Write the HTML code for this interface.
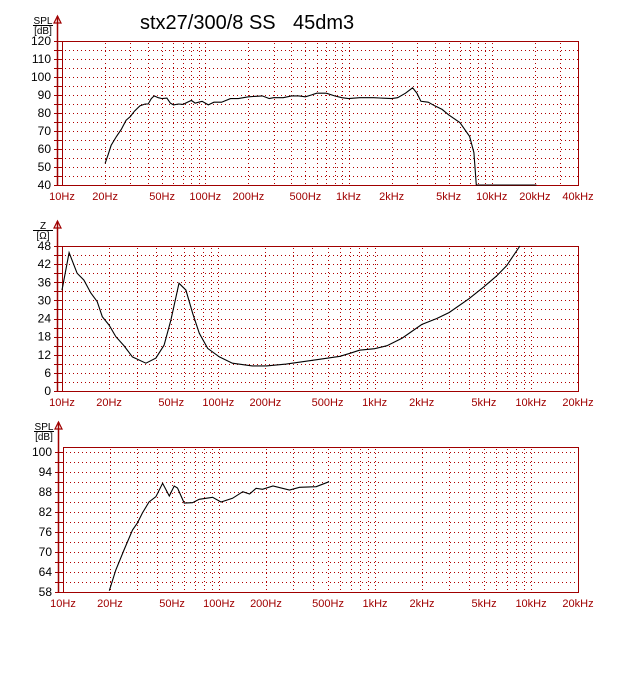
<!DOCTYPE html>
<html><head><meta charset="utf-8">
<style>
html,body{margin:0;padding:0;background:#fff;}
svg{display:block;font-family:"Liberation Sans",sans-serif;}
</style></head>
<body>
<svg id="s" width="640" height="678" xmlns="http://www.w3.org/2000/svg">
<text x="140" y="29" font-size="20" fill="#000">stx27/300/8 SS</text>
<text x="293" y="29" font-size="20" fill="#000">45dm3</text>
</svg>
<script>
// ---- Chart 1: SPL frequency response ----
const spl1Freq = [20,21,22,24,26,28,30,32,35,38,40,42,44,47,50,54,57,60,65,70,75,80,85,90,95,100,105,115,130,150,170,200,250,280,300,350,400,450,500,550,600,700,800,900,1000,1200,1500,2000,2200,2500,2800,3000,3200,3600,4000,4500,5000,6000,7000,7500,7800,8000,20500];
const spl1Db = [52,57,62,67,71,76,78,81,84,85,85,88,89.5,88.5,88,88.3,85.5,84.5,85,84.8,86,87,85.5,86,86.5,85.5,84.5,86,86,88,88,89,89.5,88,88.5,88.5,89.5,89.5,89,90,91,91,89.5,88.5,88,88.5,88.5,88,88.5,91,94,91,86.5,86,84,82,79,74.6,67,58,40,40,40];
const spl1Ticks = [40,50,60,70,80,90,100,110,120];
const xLabels1 = ["10Hz","20Hz","50Hz","100Hz","200Hz","500Hz","1kHz","2kHz","5kHz","10kHz","20kHz","40kHz"];
const xLabelFreqs1 = [10,20,50,100,200,500,1000,2000,5000,10000,20000,40000];
// ---- Chart 2: impedance ----
const zFreq = [10,11.1,12.5,13.8,15.3,16.8,18.1,20,22.1,25,28.2,34.4,39.9,45,49.7,56,62,68.6,75.6,85.5,101.6,123,165,203,272,443,600,700,800,1000,1200,1500,2000,2500,3000,4000,5000,6000,7000,8500];
const zOhm = [33.4,45.8,39,36.7,32.4,29.6,24.6,21.8,18,14.9,11.3,9.2,10.9,15.2,23.5,35.7,33.4,25.7,19.1,14.1,11.3,9.2,8.3,8.3,8.9,10.5,11.5,12.5,13.5,14,15,17.5,22,24,26,30.5,34.5,38,41.5,48];
const zTicks = [0,6,12,18,24,30,36,42,48];
const xLabels2 = ["10Hz","20Hz","50Hz","100Hz","200Hz","500Hz","1kHz","2kHz","5kHz","10kHz","20kHz"];
const xLabelFreqs2 = [10,20,50,100,200,500,1000,2000,5000,10000,20000];
// ---- Chart 3: low-frequency SPL ----
const spl3Freq = [19.8,21.8,24.6,27.9,30,32.3,35.6,39.4,43.5,48,51.6,54.2,59.8,67.6,74.6,91,103,122,142,157,173,190,222,283,328,420,508];
const spl3Db = [58.4,64.6,70.6,76.6,78.7,81.7,85,86.6,90.6,86.8,89.8,89.2,84.7,84.8,85.8,86.4,85,86.1,88.1,87.4,89.1,88.8,89.8,88.6,89.4,89.6,91.1];
const spl3Ticks = [58,64,70,76,82,88,94,100];

const NS="http://www.w3.org/2000/svg";
const svg=document.getElementById('s');
const RED="#a00000", DOT="#b00000";
function mk(tag,attrs,parent){const e=document.createElementNS(NS,tag);for(const k in attrs)e.setAttribute(k,attrs[k]);(parent||svg).appendChild(e);return e;}

function chart(cfg){
  const g=mk('g',{});
  
  
  const {x0,x1,y0,y1,fmin,fmax,vmin,vmax,step}=cfg;
  const X=f=>x0+(x1-x0)*Math.log10(f/fmin)/Math.log10(fmax/fmin);
  const Y=v=>y1-(y1-y0)*(v-vmin)/(vmax-vmin);
  for(let d=1;d<=100000;d*=10){for(let m=1;m<10;m++){const ff=m*d;if(ff<=fmin||ff>=fmax)continue;const x=Math.round(X(ff))+0.5;
    const l=mk('line',{x1:x,x2:x,y1:y0+2,y2:y1,stroke:DOT,'stroke-width':1,'stroke-dasharray':'1,3'},g);
    
    }}
  for(let v=vmin;v<=vmax+1e-6;v+=step){const y=Math.round(Y(v))+0.5;
    if(v>vmin&&y>y0+1){const l=mk('line',{x1:x0+3,x2:x1,y1:y,y2:y,stroke:DOT,'stroke-width':1,'stroke-dasharray':'1,3'},g);
      
      }
    mk('line',{x1:cfg.ax-3,x2:cfg.ax+5,y1:y,y2:y,stroke:RED,'stroke-width':1},g);}
  cfg.yticks.forEach(v=>{const t=mk('text',{x:cfg.ax-6,y:Y(v)+4,'text-anchor':'end','font-size':12,fill:'#000'},g);t.textContent=v;
    
    });
  cfg.xl.forEach((s,i)=>{const t=mk('text',{x:X(cfg.xf[i]),y:y1+15,'text-anchor':'middle','font-size':11,fill:RED},g);t.textContent=s;
    
    });
  const b=mk('rect',{x:x0+0.5,y:y0+0.5,width:x1-x0,height:y1-y0,fill:'none',stroke:RED,'stroke-width':1},g);
  
  
  const a=mk('line',{x1:cfg.ax+0.5,x2:cfg.ax+0.5,y1:cfg.atop,y2:y1+1,stroke:RED,'stroke-width':1.5},g);
  
  
  mk('path',{d:`M${cfg.ax-3},${cfg.atop+7} L${cfg.ax+0.5},${cfg.atop} L${cfg.ax+4},${cfg.atop+7} Z`,fill:'none',stroke:RED,'stroke-width':1.2},g);
  const t1=mk('text',{x:cfg.ax-14,y:cfg.atop+8,'text-anchor':'middle','font-size':10,fill:'#000'},g);t1.textContent=cfg.u1;
  
  
  mk('line',{x1:cfg.ax-24,x2:cfg.ax-4,y1:cfg.atop+9.5,y2:cfg.atop+9.5,stroke:'#000','stroke-width':1},g);
  const t2=mk('text',{x:cfg.ax-14,y:cfg.atop+18,'text-anchor':'middle','font-size':10,fill:'#000'},g);t2.textContent=cfg.u2;
  
  
  const pts=cfg.fx.map((f,i)=>X(f).toFixed(1)+','+Y(Math.max(vmin,Math.min(vmax,cfg.vy[i]))).toFixed(1)).join(' ');
  const p=mk('polyline',{points:pts,fill:'none',stroke:'#000','stroke-width':cfg.sw||1.1},g);
  
  
}
chart({name:'spl-chart',series:'spl-curve',x0:62,x1:578,y0:41,y1:185,fmin:10,fmax:40000,vmin:40,vmax:120,step:5,ax:57,atop:16,u1:'SPL',u2:'[dB]',yticks:spl1Ticks,xl:xLabels1,xf:xLabelFreqs1,fx:spl1Freq,vy:spl1Db});
chart({name:'impedance-chart',series:'impedance-curve',x0:62,x1:578,y0:246,y1:391,fmin:10,fmax:20000,vmin:0,vmax:48,step:3,ax:57,atop:221,u1:'Z',u2:'[Ω]',yticks:zTicks,xl:xLabels2,xf:xLabelFreqs2,fx:zFreq,vy:zOhm});
chart({name:'lf-spl-chart',series:'lf-spl-curve',x0:63,x1:578,y0:447,y1:592,fmin:10,fmax:20000,vmin:58,vmax:101.5,step:3,ax:58,atop:422,u1:'SPL',u2:'[dB]',yticks:spl3Ticks,xl:xLabels2,xf:xLabelFreqs2,fx:spl3Freq,vy:spl3Db});
</script>
</body></html>
